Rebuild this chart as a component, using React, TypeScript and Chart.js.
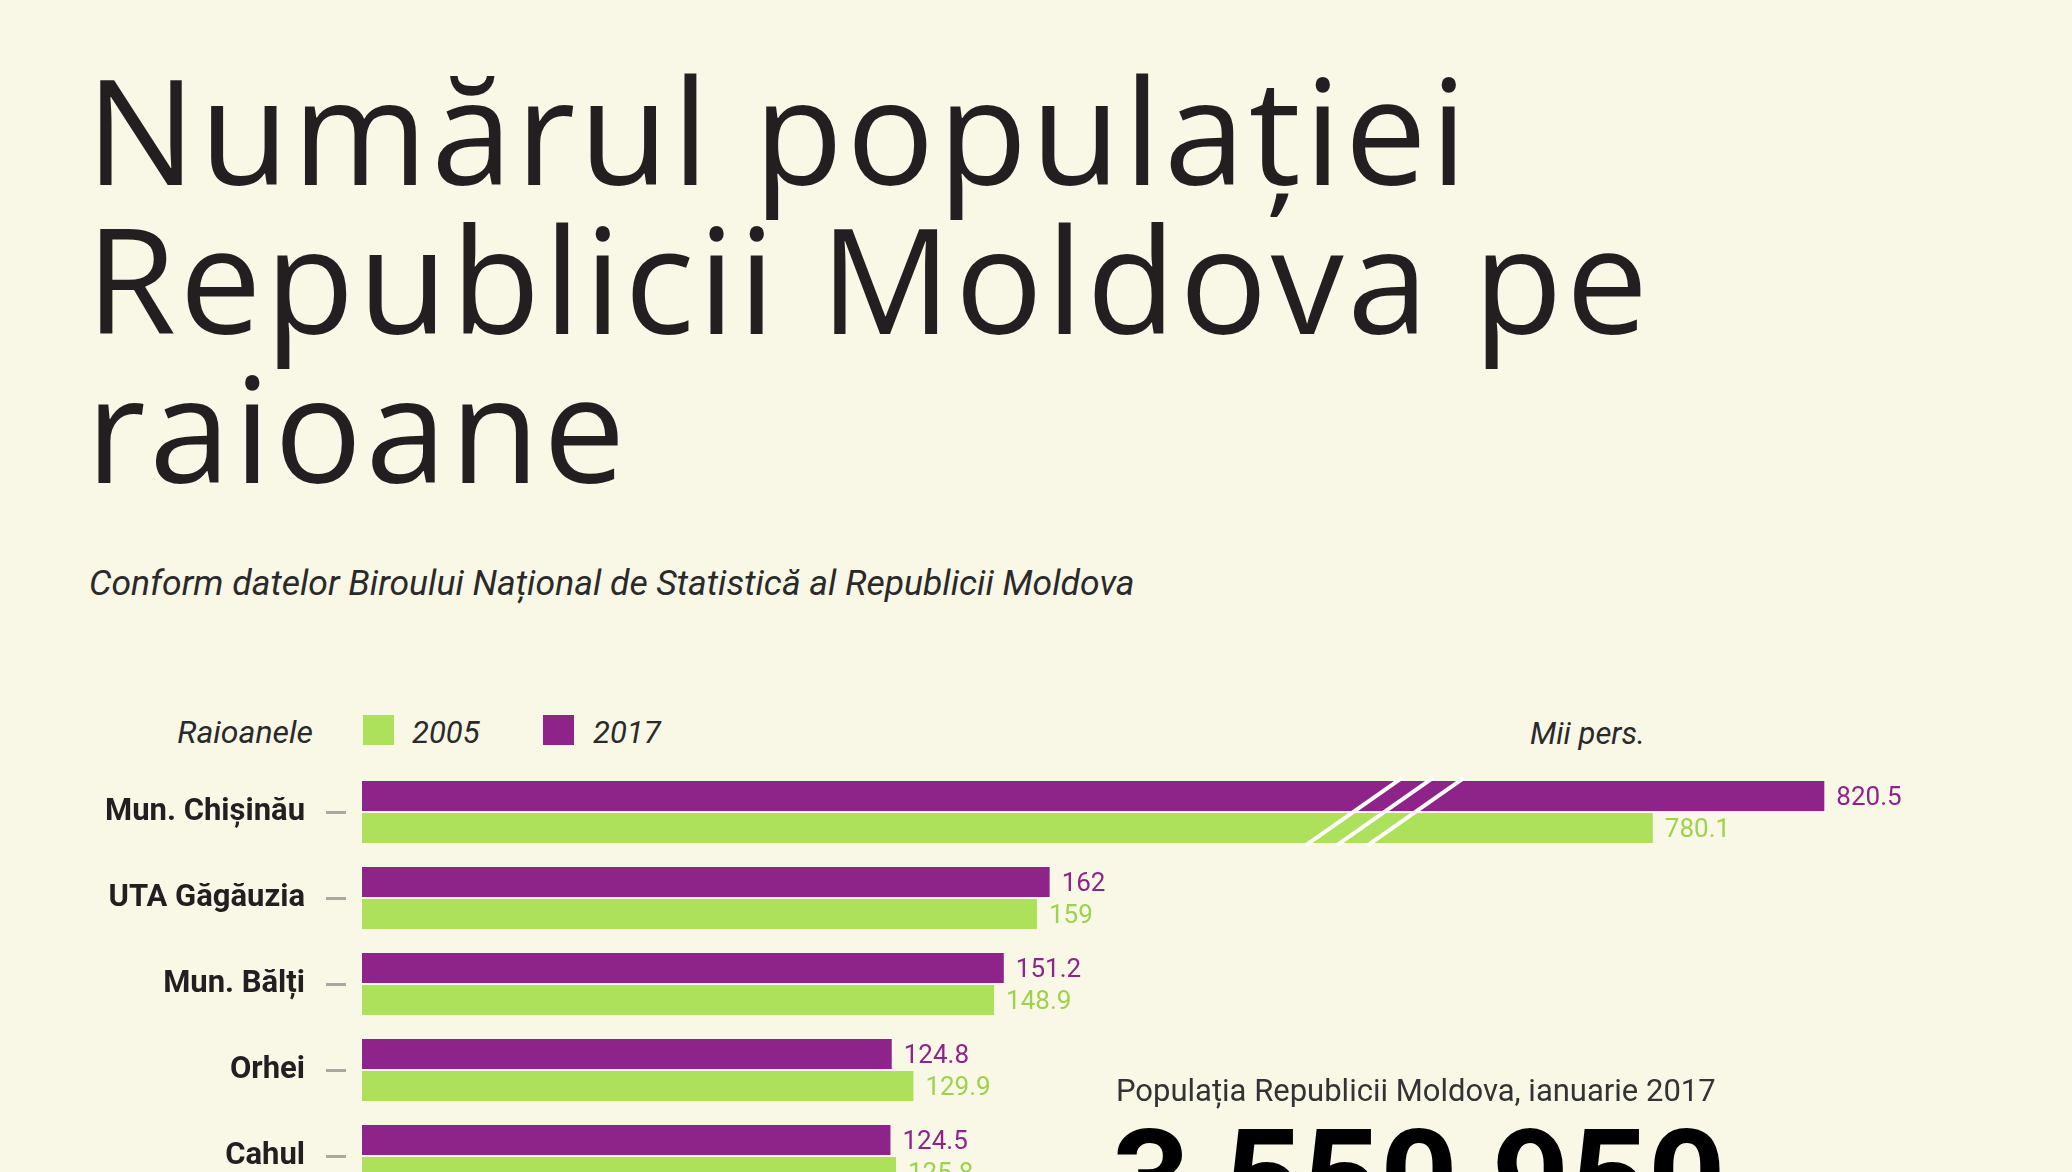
import React, { useEffect, useRef } from "react";
import { Chart, registerables } from "chart.js";

Chart.register(...registerables);

// ---- data (thousand persons) ----
const categories = ["Mun. Chișinău", "UTA Găgăuzia", "Mun. Bălți", "Orhei", "Cahul"];
const values2017 = [820.5, 162, 151.2, 124.8, 124.5];
const values2005 = [780.1, 159, 148.9, 129.9, 125.8];
const seriesLabels = ["2017", "2005"];
const legendOrder = ["2005", "2017"];

// broken-axis settings (visual only)
const CUT_ABOVE = 400; // values above this are drawn with a break
const AXIS_CUT = 476; // amount skipped by the break
const BREAK_AT = 241; // display value where the break marks sit
const X_MAX = 380;

const BG = "#f9f7e6";
const PURPLE = "#8e2489";
const GREEN = "#ade05b";
const GREEN_TEXT = "#9fd24c";
const INK = "#231f20";

const shown = (v: number) => (v > CUT_ABOVE ? v - AXIS_CUT : v);

const labelPlugin = {
  id: "labelsAndBreaks",
  afterDatasetsDraw(chart: any) {
    const ctx = chart.ctx;
    const raw = [values2017, values2005];
    const colors = [PURPLE, GREEN_TEXT];
    ctx.save();
    ctx.font = "26px Roboto";
    ctx.textAlign = "left";
    ctx.textBaseline = "alphabetic";
    chart.data.datasets.forEach((ds: any, di: number) => {
      const meta = chart.getDatasetMeta(di);
      meta.data.forEach((bar: any, i: number) => {
        ctx.fillStyle = colors[di];
        ctx.fillText(String(raw[di][i]), bar.x + 12, bar.y + 9);
      });
    });
    // break marks
    const xs = chart.scales.x;
    const m0 = chart.getDatasetMeta(0);
    const m1 = chart.getDatasetMeta(1);
    categories.forEach((_, i) => {
      if (values2017[i] <= CUT_ABOVE && values2005[i] <= CUT_ABOVE) return;
      const b0 = m0.data[i];
      const b1 = m1.data[i];
      const top = b0.y - b0.height / 2 - 3;
      const bottom = b1.y + b1.height / 2 + 2;
      const cx = xs.getPixelForValue(BREAK_AT);
      ctx.strokeStyle = "#ffffff";
      ctx.lineWidth = 4;
      [-31, 0, 31].forEach((o) => {
        ctx.beginPath();
        ctx.moveTo(cx + o - 48, bottom);
        ctx.lineTo(cx + o + 48, top);
        ctx.stroke();
      });
    });
    ctx.restore();
  },
  afterDraw(chart: any) {
    const ctx = chart.ctx;
    const ys = chart.scales.y;
    const left = chart.chartArea.left;
    ctx.save();
    ctx.strokeStyle = "#a8a8a0";
    ctx.lineWidth = 3;
    ys.ticks.forEach((_: any, i: number) => {
      const y = Math.round(ys.getPixelForTick(i)) + 0.5;
      ctx.beginPath();
      ctx.moveTo(left - 36, y);
      ctx.lineTo(left - 16, y);
      ctx.stroke();
    });
    ctx.restore();
  },
};

function BarChart() {
  const ref = useRef<HTMLCanvasElement | null>(null);
  useEffect(() => {
    if (!ref.current) return;
    const chart = new Chart(ref.current, {
      type: "bar",
      data: {
        labels: categories,
        datasets: [
          {
            label: seriesLabels[0],
            data: values2017.map(shown),
            backgroundColor: PURPLE,
            borderWidth: 0,
          },
          {
            label: seriesLabels[1],
            data: values2005.map(shown),
            backgroundColor: GREEN,
            borderWidth: 0,
          },
        ],
      },
      options: {
        indexAxis: "y",
        responsive: false,
        animation: false,
        categoryPercentage: 0.745,
        barPercentage: 0.94,
        layout: { padding: { left: 0, right: 97, top: 0, bottom: 0 } },
        plugins: {
          legend: { display: false },
          tooltip: { enabled: false },
        },
        scales: {
          x: { display: false, min: 0, max: X_MAX },
          y: {
            afterFit: (s: any) => {
              s.width = 362;
              s.paddingTop = 0;
              s.paddingBottom = 0;
            },
            grid: { display: false, drawTicks: false },
            border: { display: false },
            ticks: {
              padding: 57,
              color: INK,
              font: { family: "Roboto", weight: "bold", size: 31 },
            },
          },
        },
      } as any,
      plugins: [labelPlugin],
    });
    return () => chart.destroy();
  }, []);
  return (
    <canvas
      ref={ref}
      width={2072}
      height={430}
      style={{ position: "absolute", left: 0, top: 769, display: "block" }}
    />
  );
}

export default function App() {
  const abs = (o: any) => ({ position: "absolute" as const, whiteSpace: "nowrap" as const, margin: 0, ...o });
  return (
    <div
      style={{
        position: "fixed",
        left: 0,
        top: 0,
        width: "100vw",
        height: "100vh",
        overflow: "hidden",
        background: BG,
        color: INK,
      }}
    >
      <div
        style={abs({
          left: 86,
          top: 54,
          fontFamily: "'Open Sans'",
          fontSize: 146,
          letterSpacing: "3.5px",
          lineHeight: "149px",
          fontWeight: 400,
          color: INK,
        })}
      >
        Numărul populației
        <br />
        Republicii Moldova pe
        <br />
        raioane
      </div>
      <div
        style={abs({
          left: 89,
          top: 565,
          fontFamily: "Roboto",
          fontStyle: "italic",
          fontSize: 35.5,
          lineHeight: "36px",
          color: "#2a2a2a",
        })}
      >
        Conform datelor Biroului Național de Statistică al Republicii Moldova
      </div>

      {/* legend */}
      <div
        style={abs({
          left: 153,
          top: 717,
          width: 160,
          textAlign: "right",
          fontFamily: "Roboto",
          fontStyle: "italic",
          fontSize: 32,
          lineHeight: "30px",
          color: "#2a2a2a",
        })}
      >
        Raioanele
      </div>
      <div style={abs({ left: 363, top: 715, width: 31, height: 30, background: GREEN })} />
      <div
        style={abs({
          left: 412,
          top: 718,
          fontFamily: "Roboto",
          fontStyle: "italic",
          fontSize: 31,
          lineHeight: "30px",
          color: "#2a2a2a",
        })}
      >
        {legendOrder[0]}
      </div>
      <div style={abs({ left: 543, top: 715, width: 31, height: 30, background: PURPLE })} />
      <div
        style={abs({
          left: 593,
          top: 718,
          fontFamily: "Roboto",
          fontStyle: "italic",
          fontSize: 31,
          lineHeight: "30px",
          color: "#2a2a2a",
        })}
      >
        {legendOrder[1]}
      </div>
      <div
        style={abs({
          left: 1530,
          top: 719,
          fontFamily: "Roboto",
          fontStyle: "italic",
          fontSize: 31,
          lineHeight: "30px",
          color: "#2a2a2a",
        })}
      >
        Mii pers.
      </div>

      <BarChart />

      <div
        style={abs({
          left: 1116,
          top: 1075,
          fontFamily: "Roboto",
          fontSize: 31,
          lineHeight: "31px",
          color: "#333333",
        })}
      >
        Populația Republicii Moldova, ianuarie 2017
      </div>
      <div
        style={abs({
          left: 1112,
          top: 1112,
          fontFamily: "Roboto",
          fontWeight: 700,
          fontSize: 136,
          lineHeight: "136px",
          color: "#000000",
        })}
      >
        3 550 950
      </div>
    </div>
  );
}
